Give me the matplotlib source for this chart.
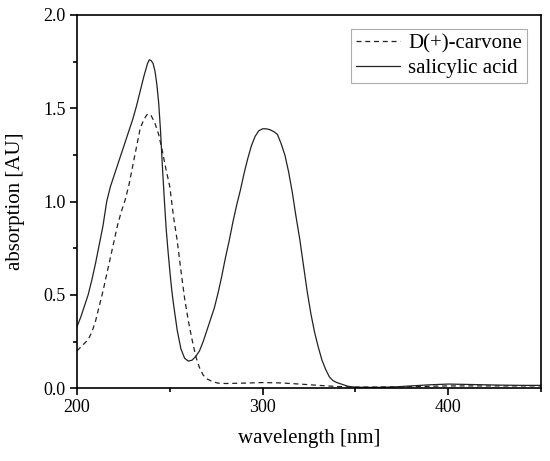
import matplotlib
matplotlib.use("Agg")
import matplotlib.pyplot as plt
from matplotlib.ticker import MultipleLocator, FormatStrFormatter

plt.rcParams['font.family'] = ['Liberation Serif', 'DejaVu Serif']

# salicylic acid spectrum
wl_sal = [200, 202, 204, 206, 208, 210, 212, 214, 216, 218, 220, 222, 224, 226, 228,
          230, 232, 234, 236, 238, 239, 240, 241, 242, 243, 244, 245, 246, 247, 248,
          249, 250, 251, 252, 253, 254, 256, 258, 260, 262, 264, 266, 268, 270, 272,
          274, 276, 278, 280, 282, 284, 286, 288, 290, 292, 294, 296, 298, 300, 302,
          304, 306, 308, 310, 312, 314, 316, 318, 320, 322, 324, 326, 328, 330, 332,
          334, 336, 338, 340, 343, 346, 350, 360, 370, 380, 390, 400, 410, 420, 430,
          440, 450]
abs_sal = [0.33, 0.38, 0.44, 0.50, 0.58, 0.67, 0.77, 0.87, 1.00, 1.08, 1.14, 1.20, 1.26, 1.32, 1.38,
           1.44, 1.51, 1.59, 1.67, 1.74, 1.76, 1.755, 1.74, 1.70, 1.63, 1.53, 1.38, 1.19, 1.02, 0.86,
           0.74, 0.63, 0.53, 0.45, 0.38, 0.31, 0.21, 0.16, 0.145, 0.15, 0.17, 0.20, 0.25, 0.31, 0.37,
           0.43, 0.51, 0.60, 0.70, 0.79, 0.89, 0.98, 1.06, 1.15, 1.23, 1.30, 1.35, 1.38, 1.39, 1.39,
           1.385, 1.375, 1.36, 1.31, 1.25, 1.16, 1.05, 0.92, 0.80, 0.66, 0.52, 0.40, 0.30, 0.22, 0.15,
           0.10, 0.06, 0.04, 0.03, 0.02, 0.01, 0.005, 0.004, 0.006, 0.012, 0.018, 0.022, 0.02, 0.018, 0.016,
           0.015, 0.015]

# D(+)-carvone spectrum
wl_car = [200, 203, 206, 208, 210, 212, 214, 216, 218, 220, 222, 224, 226, 228, 230,
          232, 234, 236, 238, 240, 242, 244, 246, 248, 250, 252, 254, 256, 258, 260,
          262, 264, 266, 268, 270, 273, 276, 280, 290, 300, 310, 320, 330, 340, 350,
          360, 380, 400, 420, 450]
abs_car = [0.20, 0.23, 0.26, 0.30, 0.36, 0.44, 0.52, 0.61, 0.70, 0.79, 0.88, 0.95, 1.01, 1.09, 1.19,
           1.29, 1.39, 1.44, 1.47, 1.46, 1.42, 1.36, 1.27, 1.17, 1.08, 0.92, 0.79, 0.63, 0.48, 0.36,
           0.26, 0.17, 0.11, 0.07, 0.05, 0.035, 0.027, 0.025, 0.027, 0.03, 0.028, 0.022, 0.015, 0.009, 0.006,
           0.006, 0.008, 0.012, 0.012, 0.012]

fig = plt.figure(figsize=(5.5, 4.61), dpi=100)
ax = fig.add_axes([0.14, 0.158, 0.8436, 0.8095])

ax.plot(wl_car, abs_car, color='#222222', lw=0.9, dashes=(4, 3), label='D(+)-carvone')
ax.plot(wl_sal, abs_sal, color='#222222', lw=0.9, label='salicylic acid')

ax.set_xlim(200, 450)
ax.set_ylim(0, 2.0)
ax.xaxis.set_major_locator(MultipleLocator(100))
ax.xaxis.set_minor_locator(MultipleLocator(50))
ax.yaxis.set_major_locator(MultipleLocator(0.5))
ax.yaxis.set_minor_locator(MultipleLocator(0.25))
ax.yaxis.set_major_formatter(FormatStrFormatter('%.1f'))

for s in ax.spines.values():
    s.set_linewidth(1.2)
ax.tick_params(which='major', direction='out', length=5, width=1.2, labelsize=13, pad=3)
ax.tick_params(which='minor', direction='out', length=3, width=1.2)
ax.tick_params(top=False, right=False)

ax.set_xlabel('wavelength [nm]', fontsize=15, labelpad=9)
ax.set_ylabel('absorption [AU]', fontsize=15, labelpad=13)

leg = ax.legend(loc='upper right', fontsize=15, frameon=True, fancybox=False,
                handlelength=2.1, handletextpad=0.4, borderpad=0.25, labelspacing=0.25,
                borderaxespad=0.65)
leg.get_frame().set_edgecolor('#999999')
leg.get_frame().set_linewidth(0.8)

fig.savefig('out.png', dpi=100)
